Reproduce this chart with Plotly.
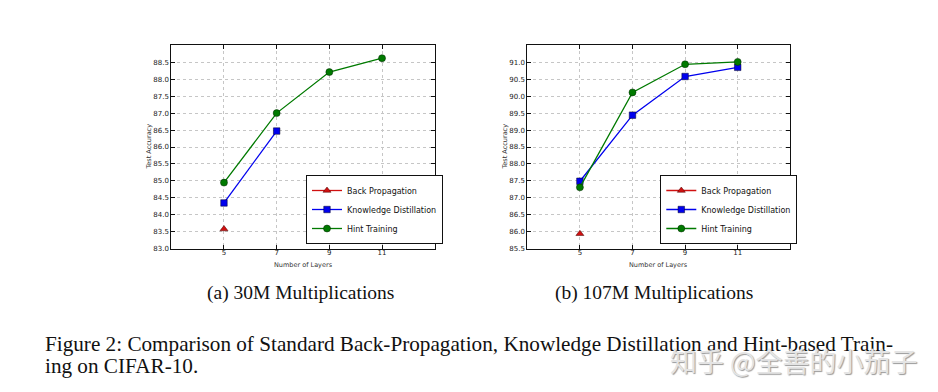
import plotly.graph_objects as go

layers = [5, 7, 9, 11]

# Panel (a): 30M multiplications
a_bp_x = [5]
a_bp_y = [83.58]
a_kd_x = [5, 7]
a_kd_y = [84.35, 86.47]
a_ht_x = [5, 7, 9, 11]
a_ht_y = [84.95, 87.0, 88.21, 88.62]

# Panel (b): 107M multiplications
b_bp_x = [5]
b_bp_y = [85.94]
b_kd_x = [5, 7, 9, 11]
b_kd_y = [87.49, 89.44, 90.58, 90.85]
b_ht_x = [5, 7, 9, 11]
b_ht_y = [87.31, 90.11, 90.94, 91.01]

a_yticks = [83.0, 83.5, 84.0, 84.5, 85.0, 85.5, 86.0, 86.5, 87.0, 87.5, 88.0, 88.5]
b_yticks = [85.5, 86.0, 86.5, 87.0, 87.5, 88.0, 88.5, 89.0, 89.5, 90.0, 90.5, 91.0]

series_names = ["Back Propagation", "Knowledge Distillation", "Hint Training"]
captions = ["(a) 30M Multiplications", "(b) 107M Multiplications"]
fig_caption = ["Figure 2: Comparison of Standard Back-Propagation, Knowledge Distillation and Hint-based Train-",
               "ing on CIFAR-10."]
watermark = "知乎 @全善的小茄子"

W, H = 938, 392
RED, BLUE, GREEN = "#d01010", "#0000ee", "#007a00"
TICKFONT = dict(family="DejaVu Sans", size=7, color="#222")

fig = go.Figure()

def add_panel(xa, ya, legend, bp, kd, ht):
    fig.add_trace(go.Scatter(x=bp[0], y=bp[1], mode="lines+markers", name=series_names[0],
                             line=dict(color=RED, width=1.3),
                             marker=dict(symbol="triangle-up", size=7, color=RED, line=dict(color="#400", width=0.5)),
                             xaxis=xa, yaxis=ya, legend=legend))
    fig.add_trace(go.Scatter(x=kd[0], y=kd[1], mode="lines+markers", name=series_names[1],
                             line=dict(color=BLUE, width=1.3),
                             marker=dict(symbol="square", size=6.5, color=BLUE, line=dict(color="#002", width=0.5)),
                             xaxis=xa, yaxis=ya, legend=legend))
    fig.add_trace(go.Scatter(x=ht[0], y=ht[1], mode="lines+markers", name=series_names[2],
                             line=dict(color=GREEN, width=1.3),
                             marker=dict(symbol="circle", size=7, color=GREEN, line=dict(color="#020", width=0.5)),
                             xaxis=xa, yaxis=ya, legend=legend))

add_panel("x", "y", "legend", (a_bp_x, a_bp_y), (a_kd_x, a_kd_y), (a_ht_x, a_ht_y))
add_panel("x2", "y2", "legend2", (b_bp_x, b_bp_y), (b_kd_x, b_kd_y), (b_ht_x, b_ht_y))

ydom = [(H - 240.7) / H, (H - 37.3) / H]

common_ax = dict(showline=True, linecolor="#111", linewidth=1, mirror="ticks", ticks="inside",
                 ticklen=4, tickcolor="#111", showgrid=True, gridcolor="#c6c6c6", gridwidth=0.6,
                 griddash="dot", zeroline=False, tickfont=TICKFONT)

legend_common = dict(y=(H - 236) / H, xanchor="left", yanchor="bottom", bgcolor="white",
                     bordercolor="#111", borderwidth=1, font=dict(family="DejaVu Sans", size=8, color="#111"),
                     itemwidth=30, tracegroupgap=0)

fig.update_layout(
    width=W, height=H, margin=dict(l=0, r=0, t=0, b=0, autoexpand=False),
    paper_bgcolor="white", plot_bgcolor="white",
    xaxis=dict(domain=[163.3 / W, 426.7 / W], range=[3, 13], tickvals=layers, anchor="y",
               ticklabelstandoff=-3, **common_ax),
    yaxis=dict(domain=ydom, range=[83.0, 89.0], tickvals=a_yticks, ticktext=[f"{v:.1f}" for v in a_yticks],
               anchor="x", **common_ax),
    xaxis2=dict(domain=[519.3 / W, 782.3 / W], range=[3, 13], tickvals=layers, anchor="y2",
                ticklabelstandoff=-3, **common_ax),
    yaxis2=dict(domain=ydom, range=[85.5, 91.5], tickvals=b_yticks, ticktext=[f"{v:.1f}" for v in b_yticks],
                anchor="x2", **common_ax),
    legend=dict(x=298 / W, **legend_common),
    legend2=dict(x=652.3 / W, **legend_common),
    showlegend=True,
)

ann = []
# axis titles
for cx in [(163.3 + 426.7) / 2, (519.3 + 782.3) / 2]:
    ann.append(dict(text="Number of Layers", x=cx / W, y=(H - 256.5) / H, xref="paper", yref="paper",
                    showarrow=False, font=dict(family="DejaVu Sans", size=6.5, color="#333"),
                    xanchor="center", yanchor="middle"))
for tx in [140.5, 496.5]:
    ann.append(dict(text="Test Accuracy", x=tx / W, y=(H - 139) / H, xref="paper", yref="paper",
                    showarrow=False, textangle=-90, font=dict(family="DejaVu Sans", size=6.5, color="#333"),
                    xanchor="center", yanchor="middle"))
# subfigure captions
for cx, txt in zip([292, 646], captions):
    ann.append(dict(text=txt, x=cx / W, y=(H - 285) / H, xref="paper", yref="paper", showarrow=False,
                    font=dict(family="Liberation Serif", size=19.5, color="#111"),
                    xanchor="center", yanchor="middle"))
# figure caption
for i, line in enumerate(fig_caption):
    ann.append(dict(text=line, x=35 / W, y=(H - (336 + 21.5 * i)) / H, xref="paper", yref="paper",
                    showarrow=False, font=dict(family="Liberation Serif", size=21.2, color="#111"),
                    xanchor="left", yanchor="middle"))
# watermark (overlaps the caption in the reference as well)
ann.append(dict(text=watermark, x=786 / W, y=(H - 352) / H, xref="paper", yref="paper", showarrow=False,
                font=dict(family="Noto Sans CJK SC", size=27, color="#e4e4e4",
                          shadow="1px 1px 1px #9a9a9a"),
                xanchor="center", yanchor="middle"))
fig.update_layout(annotations=ann)

fig.write_html("out.html")
